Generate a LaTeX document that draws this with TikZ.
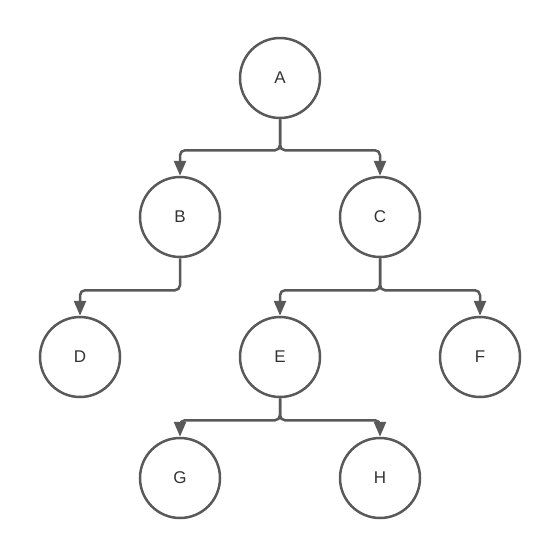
\documentclass[tikz,border=0pt]{standalone}
\usepackage{fontspec}
\setmainfont{Liberation Sans}
\usetikzlibrary{arrows.meta}
\definecolor{edge}{HTML}{595959}
\definecolor{ink}{HTML}{333333}
\tikzset{
  vertex/.style={circle, draw=edge, line width=2.5pt, minimum size=80pt, inner sep=0pt,
    text=ink, font=\fontsize{17}{20}\selectfont},
  conn/.style={draw=edge, line width=2.5pt, rounded corners=5pt,
    -{Triangle[length=15pt,width=12pt]}},
}
\begin{document}
\begin{tikzpicture}[x=1pt,y=-1pt]
  \useasboundingbox (0,0) rectangle (560,560);
  % tree nodes
  \node[vertex] (A) at (280,78) {A};
  \node[vertex] (B) at (180,217) {B};
  \node[vertex] (C) at (380,217) {C};
  \node[vertex] (D) at (80,357) {D};
  \node[vertex] (E) at (280,357) {E};
  \node[vertex] (F) at (480,357) {F};
  \node[vertex] (G) at (180,478) {G};
  \node[vertex] (H) at (380,478) {H};

  % links
  \draw[conn] (A.south) -- ++(0,31) -| (B.north);
  \draw[conn] (A.south) -- ++(0,31) -| (C.north);
  \draw[conn] (B.south) -- ++(0,32) -| (D.north);
  \draw[conn] (C.south) -- ++(0,32) -| (E.north);
  \draw[conn] (C.south) -- ++(0,32) -| (F.north);
  \draw[conn] (E.south) -- ++(0,22) -| (G.north);
  \draw[conn] (E.south) -- ++(0,22) -| (H.north);
\end{tikzpicture}
\end{document}
